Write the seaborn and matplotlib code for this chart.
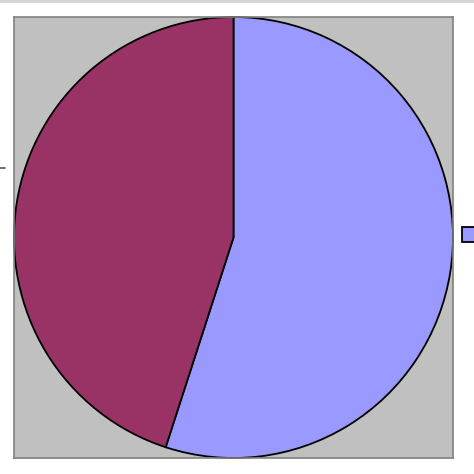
import numpy as np
import matplotlib
matplotlib.use('Agg')
import matplotlib.pyplot as plt
import seaborn as sns
from matplotlib.patches import Patch

sns.set_style('white')

# slice values (clockwise from 12 o'clock)
labels = ['A', 'B']
values = [55, 45]
colors = ['#9999FF', '#993366']

fig = plt.figure(figsize=(4.74, 4.74), dpi=100)
fig.patch.set_facecolor('white')

# thin light grey strip along the top edge
fig.add_artist(plt.Rectangle((0, 1 - 3 / 474), 1, 3 / 474, transform=fig.transFigure,
                             facecolor='#d4d4d4', edgecolor='none'))

ax = fig.add_axes([14 / 474, 16 / 474, 439 / 474, 441 / 474])
wedges, _ = ax.pie(values, colors=colors, startangle=90, counterclock=False,
                   wedgeprops=dict(edgecolor='black', linewidth=1.3))
ax.set_frame_on(True)
ax.set_facecolor('#C0C0C0')
ax.set_aspect('auto')
ax.set_xlim(-1.0, 1.0)
ax.set_ylim(-1.0, 1.0)
ax.set_xticks([])
ax.set_yticks([])
for s in ax.spines.values():
    s.set_visible(True)
    s.set_color('#808080')
    s.set_linewidth(1.2)

# legend cut off at the right edge, only the first swatch shows
leg = fig.legend(handles=[Patch(facecolor=colors[0], edgecolor='black', linewidth=1.3)],
                 labels=[''], loc='center left', bbox_to_anchor=(462 / 474, 0.505),
                 frameon=False, handlelength=1.0, handleheight=1.25, borderpad=0,
                 borderaxespad=0, handletextpad=0)

# cut-off dash on the left edge
fig.add_artist(plt.Line2D([0, 5 / 474], [1 - 168 / 474, 1 - 168 / 474],
                          transform=fig.transFigure, color='#555555', linewidth=1.2))

fig.savefig('out.png', dpi=100)
